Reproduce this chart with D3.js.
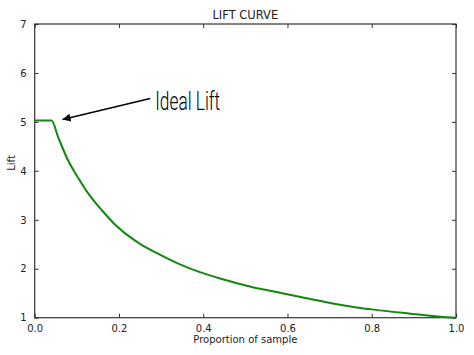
<!DOCTYPE html>
<html>
<head>
<meta charset="utf-8">
<script src="https://cdn.jsdelivr.net/npm/d3@7"></script>
<style>
  html, body { margin: 0; padding: 0; background: #fff; }
  svg { display: block; }
  text { font-family: "DejaVu Sans", sans-serif; fill: #222; }
</style>
</head>
<body>
<svg id="chart" width="474" height="355"></svg>
<script>
// ---- data ----
const proportion = [0.0, 0.04, 0.056, 0.08, 0.103, 0.127, 0.159, 0.191, 0.234, 0.25, 0.297, 0.345, 0.392, 0.44, 0.487, 0.535, 0.582, 0.628, 0.685, 0.764, 0.80, 0.883, 0.962, 1.0];
const lift       = [5.03, 5.03, 4.68, 4.20, 3.86, 3.54, 3.20, 2.90, 2.60, 2.51, 2.29, 2.09, 1.93, 1.80, 1.69, 1.59, 1.51, 1.43, 1.33, 1.21, 1.17, 1.09, 1.02, 1.0];
const xTicks = [0, 0.2, 0.4, 0.6, 0.8, 1.0];
const yTicks = [1, 2, 3, 4, 5, 6, 7];
const titleText = "LIFT CURVE";
const xLabel = "Proportion of sample";
const yLabel = "Lift";
const annotationText = "Ideal Lift";
const arrowTip = [0.066, 5.05];
const arrowTail = [0.274, 5.48];
const annotationPos = [0.286, 5.24];

// ---- layout ----
const svg = d3.select("#chart");
const W = 474, H = 355;
const margin = { left: 34.7, right: W - 456, top: 24, bottom: H - 317.7 };
const x = d3.scaleLinear().domain([0, 1]).range([margin.left, W - margin.right]);
const y = d3.scaleLinear().domain([1, 7]).range([H - margin.bottom, margin.top]);

// axes (ticks pointing inward, classic style)
const axisColor = "#333";
const tickLen = 4;
const axB = d3.axisBottom(x).tickValues(xTicks).tickFormat(d3.format(".1f")).tickSizeInner(-tickLen).tickSizeOuter(0).tickPadding(7);
const axT = d3.axisTop(x).tickValues(xTicks).tickFormat("").tickSizeInner(-tickLen).tickSizeOuter(0);
const axL = d3.axisLeft(y).tickValues(yTicks).tickFormat(d3.format("d")).tickSizeInner(-tickLen).tickSizeOuter(0).tickPadding(8);
const axR = d3.axisRight(y).tickValues(yTicks).tickFormat("").tickSizeInner(-tickLen).tickSizeOuter(0);

function styleAxis(g) {
  g.select(".domain").remove();
  g.selectAll(".tick line").attr("stroke", axisColor).attr("stroke-width", 1);
  g.selectAll(".tick text").style("font-family", "DejaVu Sans").style("font-size", "10px").attr("fill", "#222");
}

svg.append("g").attr("transform", `translate(0,${y(1)})`).call(axB).call(styleAxis);
svg.append("g").attr("transform", `translate(0,${y(7)})`).call(axT).call(styleAxis);
svg.append("g").attr("transform", `translate(${x(0)},0)`).call(axL).call(styleAxis);
svg.append("g").attr("transform", `translate(${x(1)},0)`).call(axR).call(styleAxis);

// frame
svg.append("rect")
  .attr("x", x(0)).attr("y", y(7))
  .attr("width", x(1) - x(0)).attr("height", y(1) - y(7))
  .attr("fill", "none").attr("stroke", axisColor).attr("stroke-width", 1.2);

// line
const data = proportion.map((p, i) => [p, lift[i]]);
svg.append("path")
  .datum(data)
  .attr("fill", "none")
  .attr("stroke", "#118811")
  .attr("stroke-width", 2)
  .attr("stroke-linejoin", "round")
  .attr("d", d3.line().x(d => x(d[0])).y(d => y(d[1])).curve(d3.curveMonotoneX));

// annotation arrow
const defs = svg.append("defs");
defs.append("marker")
  .attr("id", "arrowhead")
  .attr("viewBox", "0 0 10 10")
  .attr("refX", 10).attr("refY", 5)
  .attr("markerWidth", 11).attr("markerHeight", 8)
  .attr("markerUnits", "userSpaceOnUse")
  .attr("orient", "auto")
  .append("path").attr("d", "M0,0 L10,5 L0,10 Z").attr("fill", "#000");

svg.append("line")
  .attr("x1", x(arrowTail[0])).attr("y1", y(arrowTail[1]))
  .attr("x2", x(arrowTip[0])).attr("y2", y(arrowTip[1]))
  .attr("stroke", "#000").attr("stroke-width", 1.5)
  .attr("marker-end", "url(#arrowhead)");

svg.append("text")
  .attr("x", x(annotationPos[0])).attr("y", y(annotationPos[1]))
  .style("font-family", "Roboto, 'DejaVu Sans'")
  .style("font-weight", 300)
  .style("font-size", "25px")
  .attr("textLength", 65)
  .attr("lengthAdjust", "spacingAndGlyphs")
  .style("fill", "#000")
  .text(annotationText);

// title & labels
svg.append("text")
  .attr("x", (x(0) + x(1)) / 2).attr("y", 18.5)
  .attr("text-anchor", "middle")
  .style("font-size", "11.5px")
  .text(titleText);

svg.append("text")
  .attr("x", (x(0) + x(1)) / 2).attr("y", 343)
  .attr("text-anchor", "middle")
  .style("font-size", "10px")
  .text(xLabel);

svg.append("text")
  .attr("transform", `translate(15,163) rotate(-90)`)
  .attr("text-anchor", "middle")
  .style("font-size", "10px")
  .text(yLabel);
</script>
</body>
</html>
